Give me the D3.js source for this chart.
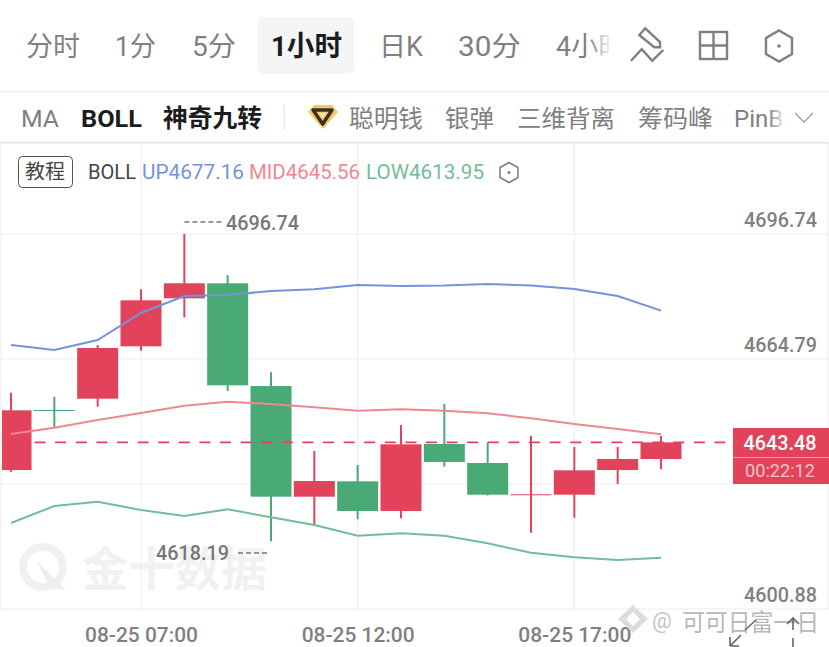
<!DOCTYPE html>
<html><head><meta charset="utf-8">
<script src="https://cdnjs.cloudflare.com/ajax/libs/d3/7.8.5/d3.min.js"></script>
<style>html,body{margin:0;padding:0;background:#fff}svg{display:block}text{font-family:Roboto,"Noto Sans CJK SC",sans-serif}</style>
</head><body><div id="c"></div>
<script>
const hours=["04:00","05:00","06:00","07:00","08:00","09:00","10:00","11:00","12:00","13:00","14:00","15:00","16:00","17:00","18:00","19:00"];
const opens =[4636.41,4651.75,4654.64,4668.03,4680.30,4684.14,4657.88,4629.59,4633.52,4625.93,4643.06,4638.20,4630.20,4630.10,4636.41,4639.22];
const closes=[4651.67,4651.70,4667.60,4679.79,4684.14,4658.06,4629.59,4633.60,4625.93,4642.98,4638.46,4630.10,4630.20,4636.33,4639.22,4643.48];
const highs =[4656.17,4655.15,4668.37,4682.60,4696.74,4686.26,4661.39,4641.27,4637.69,4647.91,4653.28,4643.49,4645.10,4642.29,4642.29,4645.10];
const lows  =[4635.98,4647.22,4652.59,4666.91,4675.45,4656.61,4618.19,4622.35,4623.81,4624.06,4637.25,4629.89,4620.38,4624.22,4632.83,4636.59];
const bollUp =[4668.37,4667.09,4669.64,4676.55,4680.89,4681.15,4682.17,4682.60,4683.70,4683.45,4683.58,4683.96,4683.58,4682.68,4680.89,4677.16];
const bollMid=[4645.61,4647.22,4649.19,4650.98,4652.85,4653.87,4653.28,4652.44,4651.57,4651.93,4651.57,4650.91,4649.63,4648.17,4646.89,4645.56];
const bollLow=[4622.86,4627.21,4628.31,4626.19,4624.65,4626.37,4624.32,4622.35,4619.62,4620.23,4619.62,4617.67,4615.27,4614.10,4613.40,4613.95];
const priceTicks=[4696.74,4664.79,4632.83,4600.88];
const priceLabels=[4696.74,4664.79,4600.88];
const timeTicks=["07:00","12:00","17:00"];
const lastPrice=4643.48, highPrice=4696.74, lowPrice=4618.19;
const tabs=[["分时",26,80],["1分",115,156],["5分",192,236],["日K",379,423],["30分",458,521]];
const tools=[["聪明钱",349,423],["银弹",445,494],["三维背离",517,615],["筹码峰",638,713]];

const RED="#E2435A",GREEN="#4AAA76",BLUE="#7393DC",PINK="#F08790",TEAL="#73BD97",GREY="#808080";
const W=829,H=647;
const svg=d3.select("#c").append("svg").attr("width",W).attr("height",H);
const defs=svg.append("defs");
const x=d3.scalePoint().domain(hours).range([11,661]);
const y=d3.scaleLinear().domain([4600.88,4696.74]).range([609,234]);
const txt=(g,s,xx,yy,size,fill,opt={})=>g.append("text").attr("x",xx).attr("y",yy).attr("font-size",size).attr("fill",fill)
  .attr("font-weight",opt.weight||400).attr("text-anchor",opt.anchor||"start").attr("textLength",opt.len||null).attr("lengthAdjust","spacingAndGlyphs").text(s);

// fade gradients
const fade=defs.append("linearGradient").attr("id","fade");
fade.append("stop").attr("offset",0).attr("stop-color","#fff").attr("stop-opacity",0);
fade.append("stop").attr("offset",1).attr("stop-color","#fff").attr("stop-opacity",1);
defs.append("clipPath").attr("id","plot").append("rect").attr("x",2).attr("y",143).attr("width",W).attr("height",466);

// top tabs
const tabRow=svg.append("g");
tabRow.append("rect").attr("x",258).attr("y",17).attr("width",96).attr("height",57).attr("rx",5).attr("fill","#f5f5f5");
tabs.forEach(t=>txt(tabRow,t[0],t[1],56,27,GREY,{len:t[2]-t[1]}));
txt(tabRow,"1小时",271,56,28,"#1c1c1c",{weight:700,len:71});
txt(tabRow,"4小时",556,56,27,GREY);
tabRow.append("rect").attr("x",586).attr("y",25).attr("width",27).attr("height",40).attr("fill","url(#fade)");
tabRow.append("rect").attr("x",612).attr("y",20).attr("width",20).attr("height",50).attr("fill","#fff");
const ic=svg.append("g").attr("fill","none").attr("stroke",GREY).attr("stroke-width",2.4);
ic.append("path").attr("d","M645.3 28.300 L660 42 V47.300 H654.300 L639.300 35 Z M631 60.700 L641.700 49.300 L652.300 60.700 L663.300 50");
ic.append("rect").attr("x",700).attr("y",32).attr("width",27).attr("height",27);
ic.append("path").attr("d","M713.5 32V59M700 45.5H727");
ic.append("path").attr("d","M779 30.500L792 38V54L779 61.500L766 54V38Z");
ic.append("circle").attr("cx",779).attr("cy",46).attr("r",1.8).attr("fill",GREY).attr("stroke","none");
svg.append("rect").attr("x",0).attr("y",91).attr("width",W).attr("height",1.5).attr("fill","#eeeeee");

// indicator row
const row=svg.append("g");
txt(row,"MA",21,127,24,GREY,{len:38});
txt(row,"BOLL",81,127,24,"#1c1c1c",{weight:700,len:61});
txt(row,"神奇九转",163,127,25,"#1c1c1c",{weight:700,len:99});
row.append("rect").attr("x",283.500).attr("y",105).attr("width",1.5).attr("height",24).attr("fill","#e6e6e6");
row.append("path").attr("d","M308 112 L314 105 H332 L338 112 L323 129 Z").attr("fill","#F7C766");
row.append("path").attr("d","M313 110 H332 L322.700 124 Z").attr("fill","none").attr("stroke","#3a3020").attr("stroke-width",3.4).attr("stroke-linejoin","round");
row.append("path").attr("d","M318.500 113 H327 L322.700 118.500 Z").attr("fill","#F5E3B0");
tools.forEach(t=>txt(row,t[0],t[1],127,24,GREY,{len:t[2]-t[1]}));
txt(row,"PinBar",734,127,24,GREY);
row.append("rect").attr("x",768).attr("y",104).attr("width",18).attr("height",30).attr("fill","url(#fade)");
row.append("rect").attr("x",786).attr("y",100).attr("width",43).attr("height",36).attr("fill","#fff");
row.append("path").attr("d","M795 113 L804 122 L813 113").attr("fill","none").attr("stroke","#a0a0a0").attr("stroke-width",1.4);
svg.append("rect").attr("x",0).attr("y",142).attr("width",W).attr("height",1.5).attr("fill","#e8e8e8");

// watermark
const wm=svg.append("g");
wm.append("circle").attr("cx",43).attr("cy",567).attr("r",20).attr("fill","none").attr("stroke","#f1f1f1").attr("stroke-width",8);
wm.append("path").attr("d","M36 560 L66 590 L50 588 Z").attr("fill","#eeeeee");
txt(wm,"金十数据",82,586,47,"#f1f1f1",{weight:700,len:185});

// grid
const grid=svg.append("g").attr("stroke","#ededed").attr("stroke-width",1);
grid.selectAll(".h").data(priceTicks).join("line").attr("class","h").attr("x1",0).attr("x2",W).attr("y1",d=>y(d)).attr("y2",d=>y(d));
grid.selectAll(".v").data(timeTicks).join("line").attr("class","v").attr("y1",143).attr("y2",609).attr("x1",d=>x(d)).attr("x2",d=>x(d));
grid.append("line").attr("x1",1).attr("x2",1).attr("y1",143).attr("y2",609);
grid.append("line").attr("x1",828).attr("x2",828).attr("y1",143).attr("y2",609);

// candles
const plot=svg.append("g").attr("clip-path","url(#plot)");
const data=hours.map((h,i)=>({h,o:opens[i],c:closes[i],hi:highs[i],lo:lows[i]}));
const col=d=>d.c>=d.o?RED:GREEN;
const cg=plot.selectAll("g.c").data(data).join("g").attr("class","c");
cg.append("line").attr("x1",d=>x(d.h)).attr("x2",d=>x(d.h)).attr("y1",d=>y(d.hi)).attr("y2",d=>y(d.lo)).attr("stroke",col).attr("stroke-width",2);
cg.append("rect").attr("x",d=>x(d.h)-20.500).attr("width",41).attr("y",d=>y(Math.max(d.o,d.c)))
  .attr("height",d=>Math.max(1,y(Math.min(d.o,d.c))-y(Math.max(d.o,d.c)))).attr("fill",col);

// last price line
plot.append("line").attr("x1",14).attr("x2",733).attr("y1",y(lastPrice)).attr("y2",y(lastPrice))
  .attr("stroke",RED).attr("stroke-width",1.8).attr("stroke-dasharray","11 9.6");

// BOLL lines
[[bollUp,BLUE],[bollMid,PINK],[bollLow,TEAL]].forEach(([s,c])=>{
  plot.append("path").attr("fill","none").attr("stroke",c).attr("stroke-width",2)
   .attr("d",d3.line().x((d,i)=>x(hours[i])).y(d=>y(d))(s));
});

// legend
const lg=svg.append("g");
lg.append("rect").attr("x",18.500).attr("y",156.500).attr("width",54).attr("height",31).attr("rx",4).attr("fill","#fff").attr("stroke","#555");
txt(lg,"教程",25,179,20,"#444",{len:40});
txt(lg,"BOLL",88,179,20,"#444",{len:48});
txt(lg,"UP"+bollUp[15],142,179,20,BLUE,{len:102});
txt(lg,"MID"+bollMid[15],249,179,20,PINK,{len:111});
txt(lg,"LOW"+bollLow[15],366,179,20,TEAL,{len:118});
lg.append("path").attr("d","M509 162.500L518 167.500V177.500L509 182.500L500 177.500V167.500Z").attr("fill","none").attr("stroke",GREY).attr("stroke-width",1.6);
lg.append("circle").attr("cx",509).attr("cy",172.500).attr("r",1.5).attr("fill",GREY);

// axes
const yAxis=d3.axisRight(y).tickValues(priceLabels).tickSize(0).tickFormat(d3.format(".2f"));
const ya=svg.append("g").attr("transform","translate(817,0)").call(yAxis);
ya.select(".domain").remove();
ya.selectAll("text").attr("x",0).attr("dy",0).attr("y",-7.500).attr("text-anchor","end").attr("font-size",21).attr("font-weight",500).attr("fill",GREY).attr("font-family",'Roboto').attr("textLength",73).attr("lengthAdjust","spacingAndGlyphs");
const xAxis=d3.axisBottom(x).tickValues(timeTicks).tickSize(0).tickFormat(d=>"08-25 "+d);
const xa=svg.append("g").attr("transform","translate(0,609)").call(xAxis);
xa.select(".domain").remove();
xa.selectAll("text").attr("y",32.500).attr("dy",0).attr("font-size",21).attr("font-weight",500).attr("fill",GREY).attr("font-family",'Roboto').attr("textLength",113).attr("lengthAdjust","spacingAndGlyphs");

// high / low annotations
const ann=svg.append("g");
ann.append("line").attr("x1",x("08:00")).attr("x2",222).attr("y1",222).attr("y2",222).attr("stroke","#777").attr("stroke-width",1.5).attr("stroke-dasharray","5 3");
txt(ann,highPrice.toFixed(2),226,230,21,"#777",{weight:500,len:73});
txt(ann,lowPrice.toFixed(2),156,560,21,"#777",{weight:500,len:73});
ann.append("line").attr("x1",238).attr("x2",268).attr("y1",553).attr("y2",553).attr("stroke","#777").attr("stroke-width",1.5).attr("stroke-dasharray","5 3");

// last price tag
const tag=svg.append("g");
tag.append("rect").attr("x",733).attr("y",428).attr("width",96).attr("height",56).attr("fill",RED);
tag.append("rect").attr("x",733).attr("y",457).attr("width",96).attr("height",1).attr("fill","#f09aa6");
txt(tag,lastPrice.toFixed(2),780,449.500,21,"#fff",{weight:500,anchor:"middle",len:73});
txt(tag,"00:22:12",780,477,19,"#f6c3ca",{anchor:"middle",len:70});

// bottom-right watermark & icons
const wr=svg.append("g");
wr.append("path").attr("d","M633 605 L648 619 L633 633 L618 619 Z M633 612 L640 619 L633 626 L626 619 Z").attr("fill","#dcdcdc").attr("fill-rule","evenodd");
txt(wr,"@",652,628,22,"#c4c4c4");
txt(wr,"可可日富一日",682,631,24,"#b8b8b8",{len:137});
wr.append("path").attr("d","M730 646 L741 635 M730 646 V637 M730 646 H739 M745 630 L756 620 M793 618 V630 M787 624 L793 618 L799 624 M793 638 V647").attr("fill","none").attr("stroke","#666").attr("stroke-width",1.6);
</script></body></html>
